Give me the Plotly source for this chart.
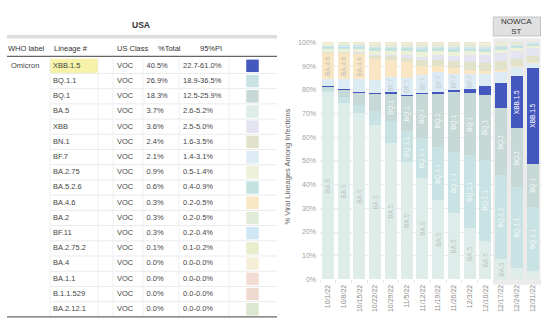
import plotly.graph_objects as go

# ---------------- data ----------------
weeks = ["10/1/22", "10/8/22", "10/15/22", "10/22/22", "10/29/22", "11/5/22", "11/12/22",
         "11/19/22", "11/26/22", "12/3/22", "12/10/22", "12/17/22", "12/24/22", "12/31/22"]
nowcast_start = "12/17/22"
y_ticks = [0, 10, 20, 30, 40, 50, 60, 70, 80, 90, 100]
y_ticklabels = ["0%", "10%", "20%", "30%", "40%", "50%", "60%", "70%", "80%", "90%", "100%"]

# table (USA, latest week)
lineages = ["XBB.1.5", "BQ.1.1", "BQ.1", "BA.5", "XBB", "BN.1", "BF.7", "BA.2.75", "BA.5.2.6",
            "BA.4.6", "BA.2", "BF.11", "BA.2.75.2", "BA.4", "BA.1.1", "B.1.1.529", "BA.2.12.1"]
us_class = ["VOC"] * 17
pct_total = ["40.5%", "26.9%", "18.3%", "3.7%", "3.6%", "2.4%", "2.1%", "0.9%", "0.6%",
             "0.3%", "0.3%", "0.3%", "0.1%", "0.0%", "0.0%", "0.0%", "0.0%"]
pi95 = ["22.7-61.0%", "18.9-36.5%", "12.5-25.9%", "2.6-5.2%", "2.5-5.0%", "1.6-3.5%", "1.4-3.1%",
        "0.5-1.4%", "0.4-0.9%", "0.2-0.5%", "0.2-0.5%", "0.2-0.4%", "0.1-0.2%", "0.0-0.0%",
        "0.0-0.0%", "0.0-0.0%", "0.0-0.0%"]
who_label = "Omicron"
highlight_lineage = "XBB.1.5"
colors = ["#4457BF", "#C9E2E3", "#C7D9D7", "#DEEDEA", "#E3E4EF", "#E2E2CB", "#DDEBF4", "#EDF1D9",
          "#C4E3DF", "#F8E6C5", "#E1EBD7", "#CFE7F5", "#E9EDCD", "#F6EFD8", "#F3DDD3", "#F0D9CE",
          "#DDE7D0"]

# weekly shares (%) per lineage
share_BA_5 = [79.1, 74.5, 70.2, 65.1, 57.4, 49.5, 42.9, 33.7, 28.0, 21.6, 16.4, 8.5, 4.8, 3.7]
share_BQ_1_1 = [1.2, 2.5, 3.5, 5.8, 9.6, 13.1, 16.7, 22.0, 25.6, 30.9, 34.1, 35.5, 34.2, 26.9]
share_BQ_1 = [1.0, 3.0, 5.0, 7.3, 11.4, 14.8, 18.6, 22.7, 25.5, 26.1, 27.3, 28.2, 24.7, 18.3]
share_XBB_1_5 = [0.3, 0.4, 0.4, 0.4, 0.5, 0.6, 0.6, 0.7, 1.0, 1.8, 3.8, 10.7, 22.3, 40.5]
share_BF_7 = [3.0, 4.2, 5.5, 5.6, 6.4, 7.0, 7.4, 8.3, 6.6, 6.3, 5.0, 4.8, 3.5, 2.1]
share_BA_4_6 = [10.9, 10.8, 10.4, 9.0, 7.5, 6.8, 3.8, 2.8, 2.5, 1.8, 1.2, 0.8, 0.5, 0.3]
share_BN_1 = [0.3, 0.4, 0.6, 1.0, 1.3, 1.7, 2.4, 2.5, 2.9, 3.2, 3.4, 3.5, 3.0, 2.4]
share_XBB = [0.1, 0.2, 0.3, 0.5, 0.7, 1.0, 1.5, 1.8, 2.3, 2.8, 3.3, 3.5, 3.6, 3.6]
share_BA_2_75 = [1.2, 1.3, 1.4, 1.7, 1.6, 1.7, 1.9, 1.7, 1.7, 1.7, 1.6, 1.5, 1.2, 0.9]
share_BA_5_2_6 = [1.0, 1.0, 1.0, 1.3, 1.3, 1.3, 1.4, 1.3, 1.3, 1.2, 1.1, 1.0, 0.8, 0.6]
share_BF_11 = [0.5, 0.5, 0.5, 0.6, 0.6, 0.7, 0.8, 0.7, 0.7, 0.7, 0.7, 0.6, 0.5, 0.3]
share_BA_2_75_2 = [0.3, 0.4, 0.5, 0.6, 0.7, 0.7, 0.8, 0.7, 0.7, 0.6, 0.6, 0.4, 0.3, 0.1]
share_BA_2 = [0.2, 0.2, 0.2, 0.3, 0.3, 0.3, 0.4, 0.4, 0.5, 0.6, 0.6, 0.5, 0.4, 0.3]
share_BA_4 = [0.7, 0.5, 0.4, 0.7, 0.6, 0.7, 0.7, 0.6, 0.6, 0.6, 0.8, 0.4, 0.1, 0.0]
share_BA_1_1 = [0.1, 0.05, 0.05, 0.05, 0.05, 0.05, 0.05, 0.05, 0.05, 0.05, 0.05, 0.05, 0.05, 0.0]
share_B_1_1_529 = [0.05, 0.03, 0.03, 0.03, 0.03, 0.03, 0.03, 0.03, 0.03, 0.03, 0.03, 0.03, 0.03, 0.0]
share_BA_2_12_1 = [0.05, 0.02, 0.02, 0.02, 0.02, 0.02, 0.02, 0.02, 0.02, 0.02, 0.02, 0.02, 0.02, 0.0]

shares = {
    "BA.5": share_BA_5, "BQ.1.1": share_BQ_1_1, "BQ.1": share_BQ_1, "XBB.1.5": share_XBB_1_5,
    "BF.7": share_BF_7, "BA.4.6": share_BA_4_6, "BN.1": share_BN_1, "XBB": share_XBB,
    "BA.2.75": share_BA_2_75, "BA.5.2.6": share_BA_5_2_6, "BF.11": share_BF_11,
    "BA.2.75.2": share_BA_2_75_2, "BA.2": share_BA_2, "BA.4": share_BA_4, "BA.1.1": share_BA_1_1,
    "B.1.1.529": share_B_1_1_529, "BA.2.12.1": share_BA_2_12_1,
}
stack_order = ["BA.5", "BQ.1.1", "BQ.1", "XBB.1.5", "BF.7", "BA.4.6", "BN.1", "XBB", "BA.2.75",
               "BA.5.2.6", "BF.11", "BA.2.75.2", "BA.2", "BA.4", "BA.1.1", "B.1.1.529", "BA.2.12.1"]

# label styling (minimum share for an in-bar label, label colour)
label_min = {"BA.5": 5.0, "BQ.1.1": 10.0, "BQ.1": 8.0, "XBB.1.5": 15.0, "BF.7": 5.8, "BA.4.6": 10.0}
label_color = {"BA.5": "#c0c8c6", "BQ.1.1": "#f4f9f9", "BQ.1": "#f3f7f6", "XBB.1.5": "#ffffff",
               "BF.7": "#c4ced3", "BA.4.6": "#cbc3b0"}

FONT = "Liberation Sans, Arial, sans-serif"
W, H = 553, 324
color_of = dict(zip(lineages, colors))

fig = go.Figure()

# ---------------- stacked bar chart ----------------
for name in stack_order:
    vals = shares[name]
    thr = label_min.get(name)
    texts = [name if (thr is not None and v >= thr) else "" for v in vals]
    fig.add_trace(go.Bar(
        x=weeks, y=vals, name=name, marker=dict(color=color_of[name], line=dict(width=0)),
        text=texts, textposition="inside", insidetextanchor="middle", textangle=-90,
        constraintext="none", textfont=dict(size=6.5, color=label_color.get(name, "#ccc"), family=FONT),
        showlegend=False, hoverinfo="x+y+name", xaxis="x", yaxis="y"))

# ---------------- table ----------------
ROW0, ROWH = 63.2, 15.55


def prow(px):
    return (px - ROW0) / ROWH


rows = list(range(len(lineages)))
TXT = dict(size=7.5, color="#454545", family=FONT)
for xcol, vals in [(53, lineages), (117, us_class), (146.5, pct_total), (183, pi95)]:
    fig.add_trace(go.Scatter(x=[xcol] * len(vals), y=rows, text=vals, mode="text",
                             textposition="middle right", textfont=TXT, cliponaxis=False,
                             showlegend=False, hoverinfo="skip", xaxis="x2", yaxis="y2"))
fig.add_trace(go.Scatter(x=[11], y=[0], text=[who_label], mode="text", textposition="middle right",
                         textfont=TXT, cliponaxis=False, showlegend=False, hoverinfo="skip",
                         xaxis="x2", yaxis="y2"))
fig.add_trace(go.Scatter(x=[252.5] * len(lineages), y=rows, mode="markers",
                         marker=dict(symbol="square", size=12.5, color=colors, line=dict(width=0)),
                         showlegend=False, hoverinfo="skip", xaxis="x2", yaxis="y2", cliponaxis=False))

shapes = []
hi = lineages.index(highlight_lineage)
shapes.append(dict(type="rect", xref="x2", yref="y2", x0=50, x1=98, y0=hi - 0.47, y1=hi + 0.47,
                   fillcolor="#F6F3A9", line=dict(width=0), layer="below"))
# row separators
for i in range(len(lineages) - 1):
    shapes.append(dict(type="line", xref="x2", yref="y2", x0=50, x1=277, y0=i + 0.5, y1=i + 0.5,
                       line=dict(color="#ebebeb", width=1), layer="below"))
# column separators
for xc in [50, 98, 113, 143, 179, 229]:
    shapes.append(dict(type="line", xref="x2", yref="y2", x0=xc, x1=xc, y0=-0.5,
                       y1=len(lineages) - 0.5, line=dict(color="#efefef", width=1), layer="below"))
# header / bottom rules
shapes.append(dict(type="line", xref="x2", yref="y2", x0=7, x1=277, y0=prow(53.6), y1=prow(53.6),
                   line=dict(color="#666", width=1.3)))
shapes.append(dict(type="line", xref="x2", yref="y2", x0=7, x1=277, y0=len(lineages) - 0.5,
                   y1=len(lineages) - 0.5, line=dict(color="#666", width=1.3)))
# grey band under title
shapes.append(dict(type="rect", xref="x2", yref="y2", x0=7, x1=277, y0=prow(31.7), y1=prow(35.2),
                   fillcolor="#dedede", line=dict(width=0)))

annotations = [dict(text="<b>USA</b>", xref="x2", yref="y2", x=141, y=prow(21.7), showarrow=False,
                    xanchor="center", yanchor="middle",
                    font=dict(size=8.5, color="#333", family=FONT))]
for xh, t in [(7, "WHO label"), (53, "Lineage #"), (116, "US Class"), (157, "%Total"), (199, "95%PI")]:
    annotations.append(dict(text=t, xref="x2", yref="y2", x=xh, y=prow(45.7), xanchor="left",
                            yanchor="middle", showarrow=False, borderpad=0,
                            font=dict(size=7.5, color="#333", family=FONT)))

# ---------------- nowcast region ----------------
ns = weeks.index(nowcast_start) - 0.5
ne = len(weeks) - 0.5
shapes.append(dict(type="rect", xref="x", yref="paper", x0=ns, x1=ne,
                   y0=1 - 287 / H, y1=1 - 35 / H, fillcolor="#ebebeb", line=dict(width=0),
                   layer="below"))
shapes.append(dict(type="rect", xref="x", yref="paper", x0=ns, x1=ne,
                   y0=1 - 32.7 / H, y1=1 - 13.3 / H, fillcolor="#e0e0e0",
                   line=dict(color="#c4c4c4", width=1)))
annotations.append(dict(text="NOWCA<br>ST", xref="x", yref="paper", x=(ns + ne) / 2,
                        y=1 - 23 / H, xanchor="center", yanchor="middle", showarrow=False,
                        font=dict(size=8, color="#333", family=FONT)))
annotations.append(dict(text="% Viral Lineages Among Infections", xref="paper", yref="paper",
                        x=287 / W, y=1 - 166 / H, xanchor="center", yanchor="middle",
                        textangle=-90, showarrow=False,
                        font=dict(size=7.5, color="#666", family=FONT)))

fig.update_layout(
    width=W, height=H, margin=dict(l=0, r=0, t=0, b=0),
    paper_bgcolor="white", plot_bgcolor="white",
    barmode="stack", bargap=0.24,
    font=dict(family=FONT),
    shapes=shapes, annotations=annotations,
    xaxis=dict(domain=[320 / W, 541 / W], type="category", tickangle=-90,
               tickfont=dict(size=7, color="#8c8c8c"), showgrid=False, zeroline=False,
               showline=False, ticks="outside", tickson="boundaries", ticklen=3,
               tickcolor="#e6e6e6", ticklabelstandoff=3, fixedrange=True),
    yaxis=dict(domain=[1 - 281.5 / H, 1 - 39.3 / H], range=[0, 100], tickmode="array",
               tickvals=y_ticks, ticktext=y_ticklabels,
               tickfont=dict(size=7, color="#a0a0a0"), showgrid=True,
               gridcolor="#ececec", gridwidth=1, zeroline=False, showline=False,
               ticklabelstandoff=3),
    xaxis2=dict(domain=[0, 280 / W], range=[0, 280], visible=False, anchor="y2"),
    yaxis2=dict(domain=[0, 1], range=[prow(H), prow(0)], visible=False, anchor="x2"),
)

fig.write_html("out.html")
